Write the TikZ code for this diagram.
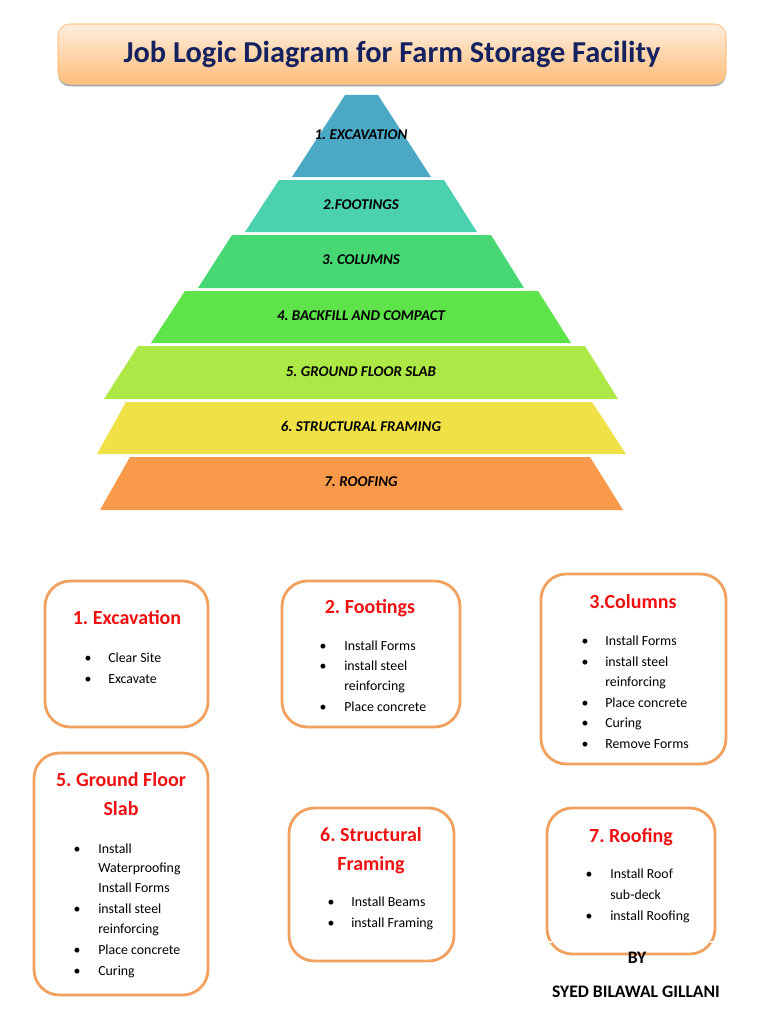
\documentclass[tikz,border=0pt]{standalone}
\usepackage{xcolor}
\usepackage{fontspec}
\setmainfont{Carlito}
\usetikzlibrary{shadows}

\definecolor{navytitle}{HTML}{14235F}
\definecolor{boxorange}{HTML}{F2A05E}
\definecolor{redhead}{HTML}{EE1111}
\frenchspacing

\tikzset{
    layerlabel/.style={font=\fontsize{11.2}{13}\selectfont\bfseries\itshape, anchor=base},
    infobox/.style={draw=boxorange, line width=2.1pt, rounded corners=19pt},
    boxhead/.style={text=redhead, font=\fontsize{15}{18}\selectfont\bfseries, anchor=base},
    boxitem/.style={font=\fontsize{10.4}{12}\selectfont, anchor=base west, inner sep=0pt},
    boxdot/.style={font=\fontsize{10.4}{12}\selectfont, anchor=base, inner sep=0pt},
    signature/.style={font=\fontsize{13.2}{15}\selectfont\bfseries, anchor=base}
}

\begin{document}
\begin{tikzpicture}[x=0.75pt, y=-0.75pt]

    \useasboundingbox (0,0) rectangle (768,1024);

    % Title banner
    \node[draw=orange!45, line width=0.8pt, rounded corners=9pt, minimum width=501pt, minimum height=45pt,
        top color=orange!13, bottom color=orange!52,
        drop shadow={shadow xshift=0pt, shadow yshift=-1.8pt, opacity=0.35, fill=black},
        text=navytitle, font=\fontsize{22.8}{27}\selectfont\bfseries] (banner) at (392,54)
        {Job Logic Diagram for Farm Storage Facility};

    % Pyramid layers
    \fill[fill={rgb,255:red,75;green,169;blue,198}] (345,95) -- (378,95) -- (431,177) -- (292,177) -- cycle;
    \fill[fill={rgb,255:red,75;green,209;blue,174}] (279,180) -- (444,180) -- (477,232) -- (245,232) -- cycle;
    \fill[fill={rgb,255:red,71;green,216;blue,115}] (232,235) -- (491,235) -- (524,288) -- (198,288) -- cycle;
    \fill[fill={rgb,255:red,94;green,227;blue,75}] (185,291) -- (538,291) -- (571,343) -- (151,343) -- cycle;
    \fill[fill={rgb,255:red,172;green,232;blue,70}] (138,346) -- (585,346) -- (618,399) -- (104,399) -- cycle;
    \fill[fill={rgb,255:red,240;green,226;blue,70}] (126,402) -- (592,402) -- (626,454) -- (97,454) -- cycle;
    \fill[fill={rgb,255:red,248;green,154;blue,74}] (130,457) -- (590,457) -- (623,510) -- (100,510) -- cycle;

    % Pyramid labels
    \node[layerlabel] (layerA) at (361,139) {1. EXCAVATION};
    \node[layerlabel] (layerB) at (361,209) {2.FOOTINGS};
    \node[layerlabel] (layerC) at (361,264) {3. COLUMNS};
    \node[layerlabel] (layerD) at (361,320) {4. BACKFILL AND COMPACT};
    \node[layerlabel] (layerE) at (361,376) {5. GROUND FLOOR SLAB};
    \node[layerlabel] (layerF) at (361,431) {6. STRUCTURAL FRAMING};
    \node[layerlabel] (layerG) at (361,486) {7. ROOFING};

    % Box 1
    \draw[infobox] (45,581) rectangle (208,727);
    \node[boxhead] (headA) at (127,624) {1. Excavation};
    \node[boxdot] (dotAa) at (88,662) {\textbullet};
    \node[boxitem] (itemAa) at (108,662) {Clear Site};
    \node[boxdot] (dotAb) at (88,683) {\textbullet};
    \node[boxitem] (itemAb) at (108,683) {Excavate};

    % Box 2
    \draw[infobox] (282,581) rectangle (460,727);
    \node[boxhead] (headB) at (370,613) {2. Footings};
    \node[boxdot] (dotBa) at (323,650) {\textbullet};
    \node[boxitem] (itemBa) at (344,650) {Install Forms};
    \node[boxdot] (dotBb) at (323,670) {\textbullet};
    \node[boxitem] (itemBb) at (344,670) {install steel};
    \node[boxitem] (itemBc) at (344,690) {reinforcing};
    \node[boxdot] (dotBd) at (323,711) {\textbullet};
    \node[boxitem] (itemBd) at (344,711) {Place concrete};

    % Box 3
    \draw[infobox] (541,574) rectangle (726,764);
    \node[boxhead] (headC) at (633,608) {3.Columns};
    \node[boxdot] (dotCa) at (585,645) {\textbullet};
    \node[boxitem] (itemCa) at (605,645) {Install Forms};
    \node[boxdot] (dotCb) at (585,666) {\textbullet};
    \node[boxitem] (itemCb) at (605,666) {install steel};
    \node[boxitem] (itemCc) at (605,686) {reinforcing};
    \node[boxdot] (dotCd) at (585,707) {\textbullet};
    \node[boxitem] (itemCd) at (605,707) {Place concrete};
    \node[boxdot] (dotCe) at (585,727) {\textbullet};
    \node[boxitem] (itemCe) at (605,727) {Curing};
    \node[boxdot] (dotCf) at (585,748) {\textbullet};
    \node[boxitem] (itemCf) at (605,748) {Remove Forms};

    % Box 5
    \draw[infobox] (34,753) rectangle (208,995);
    \node[boxhead] (headEa) at (121,786) {5. Ground Floor};
    \node[boxhead] (headEb) at (121,815) {Slab};
    \node[boxdot] (dotEa) at (77,853) {\textbullet};
    \node[boxitem] (itemEa) at (98,853) {Install};
    \node[boxitem] (itemEb) at (98,872) {Waterproofing};
    \node[boxitem] (itemEc) at (98,892) {Install Forms};
    \node[boxdot] (dotEd) at (77,913) {\textbullet};
    \node[boxitem] (itemEd) at (98,913) {install steel};
    \node[boxitem] (itemEe) at (98,933) {reinforcing};
    \node[boxdot] (dotEf) at (77,954) {\textbullet};
    \node[boxitem] (itemEf) at (98,954) {Place concrete};
    \node[boxdot] (dotEg) at (77,975) {\textbullet};
    \node[boxitem] (itemEg) at (98,975) {Curing};

    % Box 6
    \draw[infobox] (289,808) rectangle (454,961);
    \node[boxhead] (headFa) at (371,841) {6. Structural};
    \node[boxhead] (headFb) at (371,870) {Framing};
    \node[boxdot] (dotFa) at (331,906) {\textbullet};
    \node[boxitem] (itemFa) at (351,906) {Install Beams};
    \node[boxdot] (dotFb) at (331,927) {\textbullet};
    \node[boxitem] (itemFb) at (351,927) {install Framing};

    % Box 7
    \draw[infobox] (547,808) rectangle (715,954);
    \draw[white, line width=1.5pt] (544,942) -- (552,942);
    \draw[white, line width=1.5pt] (710,942) -- (718,942);
    \node[boxhead] (headG) at (631,842) {7. Roofing};
    \node[boxdot] (dotGa) at (589,878) {\textbullet};
    \node[boxitem] (itemGa) at (610,878) {Install Roof};
    \node[boxitem] (itemGb) at (610,899) {sub-deck};
    \node[boxdot] (dotGc) at (589,920) {\textbullet};
    \node[boxitem] (itemGc) at (610,920) {install Roofing};

    % Signature
    \node[signature] (byline) at (637,963) {BY};
    \node[signature] (author) at (636,997) {SYED BILAWAL GILLANI};

\end{tikzpicture}
\end{document}
